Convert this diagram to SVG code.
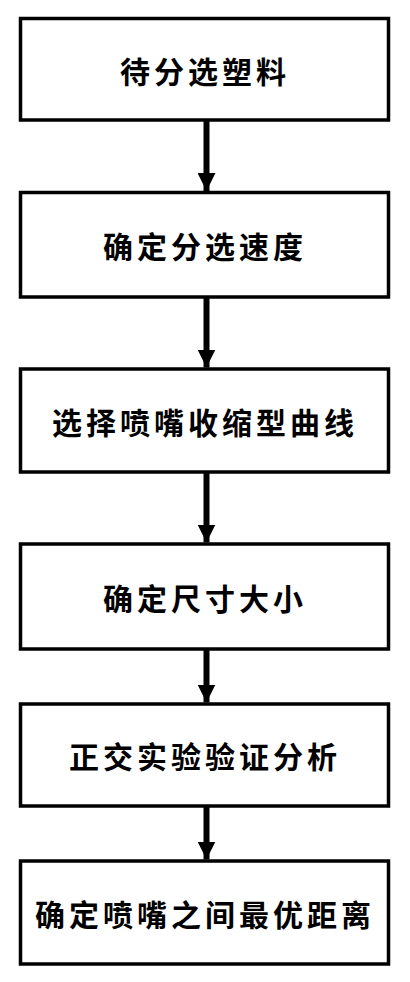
<svg xmlns="http://www.w3.org/2000/svg" width="410" height="982" viewBox="0 0 410 982">
<defs>
<style>
.box{fill:#fff;stroke:#000;stroke-width:3.5}
.lbl{font-family:"Noto Sans CJK SC","Noto Sans",sans-serif;font-weight:bold;font-size:30px;letter-spacing:4px;text-anchor:middle;dominant-baseline:central;fill:#000}
.shaft{stroke:#000;stroke-width:6;fill:none}
</style>
<marker id="ah" markerUnits="userSpaceOnUse" markerWidth="18" markerHeight="18" refX="18" refY="9" orient="auto" viewBox="0 0 18 18">
<path d="M0,0 L18,9 L0,18 Z" fill="#000"/>
</marker>
</defs>
<rect width="410" height="982" fill="#fff"/>
<g id="connectors">
<line class="shaft" x1="206.5" y1="121" x2="206.5" y2="191" marker-end="url(#ah)"/>
<line class="shaft" x1="206.5" y1="298" x2="206.5" y2="367.5" marker-end="url(#ah)"/>
<line class="shaft" x1="206.5" y1="473" x2="206.5" y2="542.5" marker-end="url(#ah)"/>
<line class="shaft" x1="206.5" y1="650" x2="206.5" y2="702.5" marker-end="url(#ah)"/>
<line class="shaft" x1="206.5" y1="807" x2="206.5" y2="859.5" marker-end="url(#ah)"/>
</g>
<g id="n1"><rect class="box" x="20.5" y="18.5" width="368" height="101.5"/><text class="lbl" x="205" y="70">待分选塑料</text></g>
<g id="n2"><rect class="box" x="20.5" y="192.5" width="368" height="104.5"/><text class="lbl" x="205" y="245">确定分选速度</text></g>
<g id="n3"><rect class="box" x="20.5" y="369" width="368" height="103"/><text class="lbl" x="205" y="421">选择喷嘴收缩型曲线</text></g>
<g id="n4"><rect class="box" x="20.5" y="544" width="368" height="105"/><text class="lbl" x="205" y="597">确定尺寸大小</text></g>
<g id="n5"><rect class="box" x="20.5" y="704" width="368" height="102"/><text class="lbl" x="205" y="755">正交实验验证分析</text></g>
<g id="n6"><rect class="box" x="20.5" y="861" width="368" height="103"/><text class="lbl" x="205" y="913">确定喷嘴之间最优距离</text></g>
</svg>
